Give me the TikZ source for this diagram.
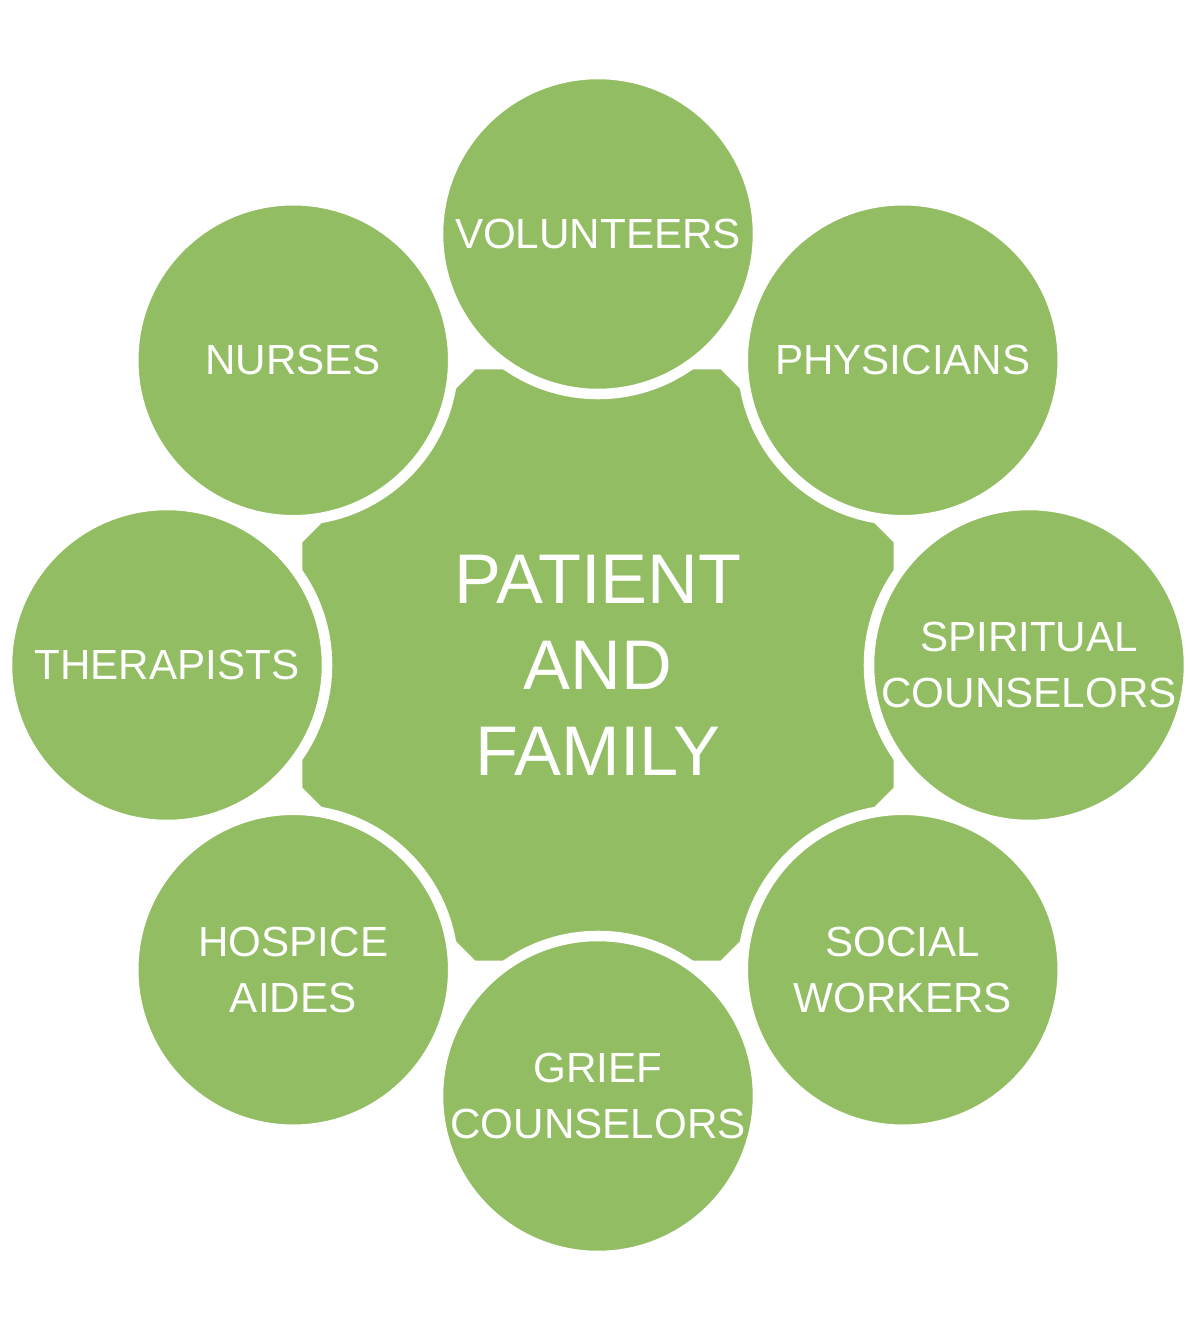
\documentclass[tikz,border=0pt]{standalone}
\usepackage{fontspec}
\setmainfont{Liberation Sans}
\usetikzlibrary{shapes.geometric,calc}
\definecolor{LeafGreen}{RGB}{146,189,98}
\tikzset{
  hub/.style={regular polygon, regular polygon sides=8, minimum size=6.4cm,
    fill=LeafGreen, text=white, align=center, font=\fontsize{20}{24.5}\selectfont, inner sep=0pt},
  role/.style={circle, minimum size=3.2cm, fill=LeafGreen, draw=white, line width=3pt,
    text=white, align=center, font=\fontsize{12}{16}\selectfont, inner sep=0pt}
}
\begin{document}
\begin{tikzpicture}
  \useasboundingbox[fill=white] (0,0) rectangle (11.98,13.21);
  % centre
  \node[hub] (hub) at (5.98,6.56) {PATIENT\\AND\\FAMILY};
  % ring of roles
  \foreach \ang/\name/\txt in {90/vol/VOLUNTEERS, 45/phy/PHYSICIANS,
      0/spi/{SPIRITUAL\\COUNSELORS}, -45/soc/{SOCIAL\\WORKERS},
      -90/gri/{GRIEF\\COUNSELORS}, -135/hos/{HOSPICE\\AIDES},
      180/the/THERAPISTS, 135/nur/NURSES}
    \node[role] (\name) at ($(hub.center)+(\ang:4.31)$) {\txt};
\end{tikzpicture}
\end{document}
